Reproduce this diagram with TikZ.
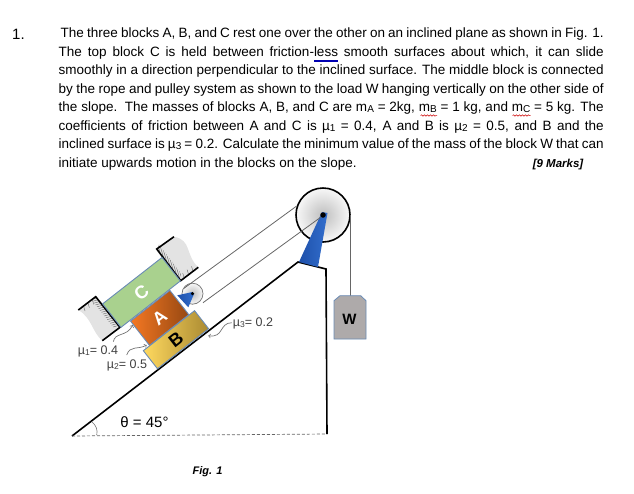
\documentclass[tikz,border=0pt]{standalone}
\usepackage{fontspec}
\setmainfont{Liberation Sans}
\usepackage{xcolor}
\usepackage{tikz}
\usetikzlibrary{positioning}
\usetikzlibrary{calc}
\usetikzlibrary{decorations.pathmorphing}
\pgfdeclarelayer{nodelayer}
\pgfdeclarelayer{edgelayer}
\pgfsetlayers{main,edgelayer,nodelayer}
\definecolor{bluebd}{HTML}{6A8BB5}
\definecolor{txtgray}{HTML}{404040}
\tikzset{
    none/.style = {inner sep=0pt},
    block/.style = {draw=bluebd, line width=0.9pt, rotate=38, inner sep=0pt, font=\fontsize{18}{18}\selectfont\bfseries},
    rope/.style = {draw=black!60, line width=0.8pt},
    wall/.style = {line width=1.6pt},
    leader/.style = {draw=black!55, line width=0.7pt},
    hatch/.style = {black!60, line width=0.4pt},
    wavy/.style = {red!80!black, line width=0.5pt, decorate, decoration={snake, amplitude=0.7pt, segment length=3pt}},
    mulabel/.style = {inner sep=0pt, text=txtgray, font=\fontsize{12.5}{12.5}\selectfont},
    bracket/.style = {left color={rgb,255:red,30;green,80;blue,170}, right color={rgb,255:red,50;green,110;blue,205}}
}
\newcommand{\sbs}[1]{\raisebox{-1pt}{\fontsize{10}{10}\selectfont #1}}
\newcommand{\sbm}[1]{\raisebox{-1.5pt}{\fontsize{8.5}{8.5}\selectfont #1}}
\begin{document}
\begin{tikzpicture}[x=1pt,y=-1pt]
  \useasboundingbox (0,0) rectangle (634,493);
  % statement
  \node [style=none, anchor=west] (num) at (12,34) {\fontsize{15}{15}\selectfont 1.};
  \node [style=none, anchor=north west, text width=545pt, align=justify] (statement) at (58.5,27.5) {\fontsize{13.5}{18.55}\selectfont
    \hspace*{2pt}The three blocks A, B, and C rest one over the other on an inclined plane as shown in Fig. 1.\linebreak
    The top block C is held between friction-less smooth surfaces about which, it can slide\linebreak
    smoothly in a direction perpendicular to the inclined surface. The middle block is connected\linebreak
    by the rope and pulley system as shown to the load W hanging vertically on the other side of\linebreak
    the slope.\ \ The masses of blocks A, B, and C are m\sbs{A} = 2kg, m\sbs{B} = 1 kg, and m\sbs{C} = 5 kg. The\linebreak
    coefficients of friction between A and C is µ\sbs{1} = 0.4, A and B is µ\sbs{2} = 0.5, and B and the\linebreak
    inclined surface is µ\sbs{3} = 0.2. Calculate the minimum value of the mass of the block W that can\linebreak
    initiate upwards motion in the blocks on the slope.\par};
  \node [style=none] (marks) at (558,164.5) {\fontsize{11.5}{11.5}\selectfont\bfseries\itshape [9 Marks]};
  \draw [blue!70!black, line width=0.5pt] (314,60) -- (338,60) (314,61.5) -- (338,61.5);
  \draw [wavy] (420.5,115.5) -- (437,115.5);
  \draw [wavy] (512.5,115.5) -- (530.5,115.5);

  % walls
  \fill [black!11] (174,236.7) .. controls (192,240) and (185,255) .. (198.3,267.3) -- (180.7,280.7) -- (156.7,249) -- cycle;
  \fill [black!11] (78.3,310) .. controls (92,318) and (92,332) .. (102.3,340.7) -- (120,327.3) -- (95.7,296.7) -- cycle;
  \coordinate (u0) at (156.7,249);
  \coordinate (u1) at (180.7,280.7);
  \coordinate (u2) at (174,236.7);
  \coordinate (u3) at (198.3,267.3);
  \coordinate (l0) at (95.7,296.7);
  \coordinate (l1) at (120,327.3);
  \coordinate (l2) at (78.3,310);
  \coordinate (l3) at (102.3,340.7);
  \foreach \t in {0.04,0.10,...,0.99} {
    \draw [hatch] ($(u0)!\t!(u1)$) -- ++(1.5,-5.5);
    \draw [hatch] ($(l0)!\t!(l1)$) -- ++(-5.5,1.5);
  }
  \foreach \t in {0.2,0.45,0.7} {
    \draw [hatch] ($(u1)!\t!(u3)$) -- ++(-1.5,-5);
    \draw [hatch] ($(l0)!\t!(l2)$) -- ++(1.5,5);
  }
  \draw [wall] (u2) -- (u0) -- (u1) -- (u3);
  \draw [wall] (l2) -- (l0) -- (l1) -- (l3);

  % base
  \coordinate (p0) at (72,436);
  \coordinate (p1) at (298,262);
  \coordinate (p2) at (326,269);
  \coordinate (p3) at (327,434);
  \draw [wall] (p0) -- (p1) -- (p2) -- (p3);
  \draw [black!60, densely dashed, line width=0.7pt] (p0) -- (p3);
  \draw [black!55, line width=0.6pt] (91.7,421.7) .. controls (96,425) and (98,430) .. (96.7,435);

  % big pulley
  \node [circle, draw=black, line width=1.6pt, minimum size=54pt, inner sep=0pt, inner color=black!25, outer color=black!3] (bigpulley) at (323,215) {};
  \path [bracket, draw=none] (322,212) -- (327.5,213) -- (318,267) -- (299,262) -- cycle;
  \node [circle, fill=black, inner sep=0pt, minimum size=5.5pt] (bigaxle) at (323,215) {};

  % small pulley
  \node [circle, draw=black!55, line width=0.7pt, minimum size=21pt, inner sep=0pt, inner color=black!25, outer color=black!3] (smallpulley) at (192.5,293.7) {};
  \path [bracket, draw=none] (192.5,292) -- (177.3,295.3) -- (188.3,307.3) -- (194,294) -- cycle;
  \node [circle, fill=black, inner sep=0pt, minimum size=3.5pt] (smallaxle) at (192.5,293.7) {};

  % ropes
  \coordinate (r0) at (296.7,206);
  \coordinate (r1) at (184,288.3);
  \coordinate (r2) at (321,217);
  \coordinate (r3) at (203,302.7);
  \coordinate (r4) at (350.3,215);
  \coordinate (r5) at (350.3,296);
  \draw [rope] (r0) -- (r1);
  \draw [rope] (r2) -- (r3);
  \draw [rope] (r4) -- (r5);

  % load
  \filldraw [draw=bluebd, line width=0.8pt, fill={rgb,255:red,174;green,170;blue,170}] (334,300.7) -- (340,295.7) -- (360.7,295.7) -- (366,300.7) -- (366,339) -- (334,339) -- cycle;
  \node [style=none] (load) at (349.5,319) {\fontsize{15}{15}\selectfont\bfseries W};

  % blocks
  \begin{pgfonlayer}{nodelayer}
    \node [block, fill={rgb,255:red,169;green,209;blue,142}, minimum width=75.3pt, minimum height=29.8pt, text=white] (blockC) at (141.5,292.4) {C};
    \node [block, left color={rgb,255:red,245;green,120;blue,35}, right color={rgb,255:red,150;green,72;blue,18}, minimum width=49.9pt, minimum height=30.8pt, text=white] (blockA) at (159.7,317.9) {A};
    \node [block, left color={rgb,255:red,255;green,217;blue,95}, right color={rgb,255:red,170;green,138;blue,50}, minimum width=65pt, minimum height=22.9pt] (blockB) at (176,339.7) {B};
  \end{pgfonlayer}

  % friction labels
  \node [mulabel] (mu1) at (98,351) {µ\sbm{1}= 0.4};
  \node [mulabel] (mu2) at (127,365) {µ\sbm{2}= 0.5};
  \node [mulabel] (mu3) at (253,323) {µ\sbm{3}= 0.2};
  \node [style=none] (theta) at (144.5,422) {\fontsize{15}{15}\selectfont θ = 45°};
  \node [style=none] (fig) at (207.5,471.5) {\fontsize{11}{11}\selectfont\itshape\bfseries Fig. 1};
  \coordinate (m1a) at (113.3,341.7);
  \coordinate (m1b) at (132.7,325);
  \coordinate (m2a) at (126.7,355);
  \coordinate (m2b) at (146.7,345);
  \coordinate (m3a) at (231.7,322.7);
  \coordinate (m3b) at (208.3,335.7);
  \draw [leader, ->] (m1a) .. controls (115,332) and (127,337) .. (m1b);
  \draw [leader, ->] (m2a) .. controls (130,345) and (138,350) .. (m2b);
  \draw [leader, ->] (m3a) .. controls (219,323) and (224,338) .. (m3b);
\end{tikzpicture}
\end{document}
